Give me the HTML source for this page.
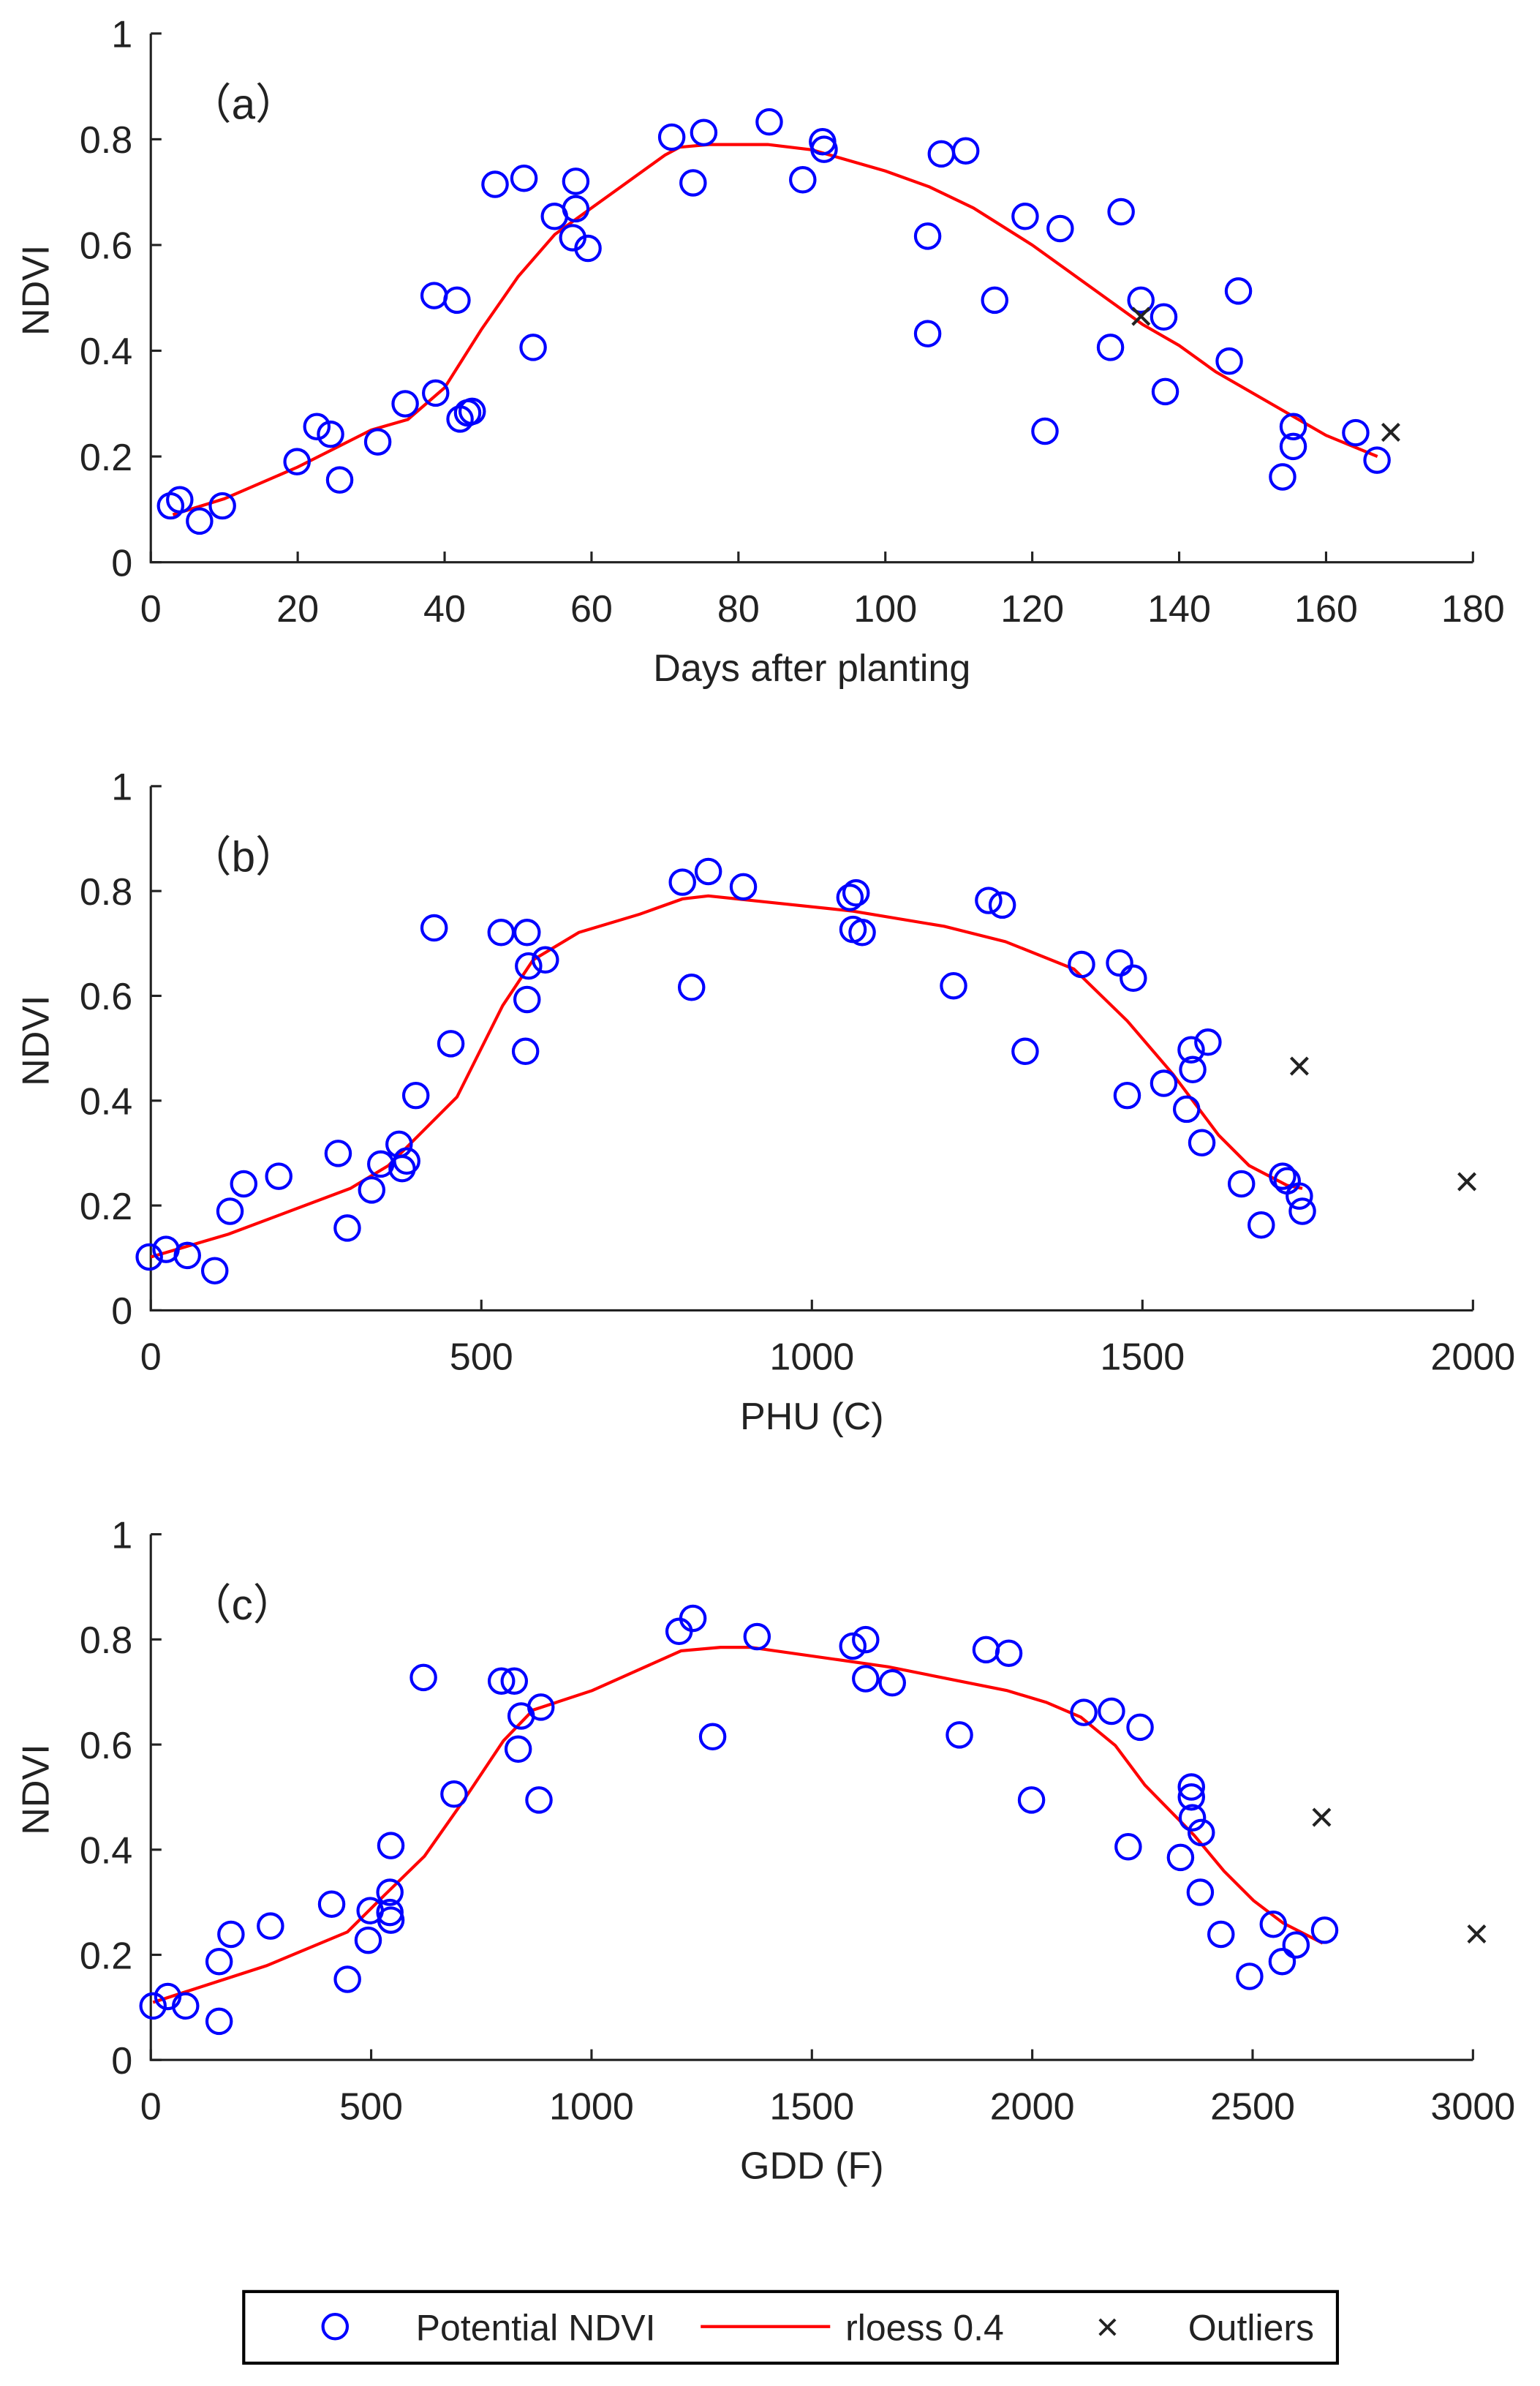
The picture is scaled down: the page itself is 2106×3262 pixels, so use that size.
<!DOCTYPE html>
<html><head><meta charset="utf-8"><style>
html,body{margin:0;padding:0;background:#fff;}
svg{display:block;}
text{font-family:"Liberation Sans","Noto Sans CJK SC",sans-serif;fill:#222;}
</style></head><body>
<svg id="s" width="2106" height="3262" viewBox="0 0 1011 1566" preserveAspectRatio="none" xmlns="http://www.w3.org/2000/svg">
<rect width="1011" height="1566" fill="#fff"/>
<g id="g"></g>
<rect x="160" y="1504" width="718" height="47" fill="none" stroke="#000" stroke-width="2"/>
<circle cx="220" cy="1527" r="8" fill="none" stroke="#00f" stroke-width="2"/>
<text x="273" y="1536" font-size="24">Potential NDVI</text>
<line x1="460" y1="1527" x2="545" y2="1527" stroke="#f00" stroke-width="2"/>
<text x="555" y="1536" font-size="24">rloess 0.4</text>
<text x="727" y="1536" font-size="26" text-anchor="middle">×</text>
<text x="780" y="1536" font-size="24">Outliers</text>
</svg>
<script>
var NS="http://www.w3.org/2000/svg",G=document.getElementById("g");
function el(t,a,txt){var e=document.createElementNS(NS,t);for(var k in a)e.setAttribute(k,a[k]);if(txt!=null)e.textContent=txt;G.appendChild(e);return e;}
function panel(top,bot,xmax,xstep,tag,xl,pts,outs,loess){
 var L=99,R=967;
 el("path",{d:"M"+L+" "+top+"V"+bot+"H"+R,fill:"none",stroke:"#222","stroke-width":1.5});
 for(var i=0;i<=5;i++){var v=i*0.2,y=bot-(bot-top)*v;
  el("line",{x1:L,y1:y,x2:L+7,y2:y,stroke:"#222","stroke-width":1.5});
  el("text",{x:87,y:y+9,"font-size":25,"text-anchor":"end"},i==0?"0":i==5?"1":v.toFixed(1));}
 for(var xv=0;xv<=xmax;xv+=xstep){var x=L+(R-L)*xv/xmax;
  el("line",{x1:x,y1:bot,x2:x,y2:bot-7,stroke:"#222","stroke-width":1.5});
  el("text",{x:x,y:bot+39,"font-size":25,"text-anchor":"middle"},String(xv));}
 el("text",{x:533,y:bot+78,"font-size":25,"text-anchor":"middle"},xl);
 var cy=(top+bot)/2-5;
 el("text",{x:32,y:cy,"font-size":25,"text-anchor":"middle",transform:"rotate(-90 32 "+cy+")"},"NDVI");
 el("text",{x:124,y:top+56,"font-size":28},"（"+tag+"）");
 el("polyline",{points:loess.map(function(p){return p.join(",")}).join(" "),fill:"none",stroke:"#f00","stroke-width":2});
 pts.forEach(function(p){el("circle",{cx:p[0],cy:p[1],r:8,fill:"none",stroke:"#00f","stroke-width":2});});
 outs.forEach(function(p){el("text",{x:p[0],y:p[1]+8,"font-size":28,"text-anchor":"middle"},"×");});
}
var la=[[3,0.09],[10,0.12],[20,0.18],[30,0.25],[35,0.27],[40,0.33],[45,0.44],[50,0.54],[55,0.62],[60,0.67],[65,0.72],[70,0.77],[72,0.785],[76,0.79],[84,0.79],[90,0.78],[100,0.74],[106,0.71],[112,0.67],[120,0.60],[125,0.55],[132,0.48],[135,0.45],[140,0.41],[145,0.36],[150,0.32],[160,0.24],[167,0.2]].map(function(p){return [99+p[0]*4.822,369-p[1]*347];});
panel(22,369,180,20,"a","Days after planting",
[[112,332],[118,328],[131,342],[146,332],[195,303],[208,280],[217,285],[223,315],[248,290],[266,265],[285,194],[286,258],[300,197],[302,275],[307,271],[310,270],[325,121],[344,117],[350,228],[364,142],[376,156],[378,119],[378,137],[386,163],[441,90],[455,120],[462,87],[505,80],[527,118],[540,93],[541,98],[609,155],[609,219],[618,101],[634,99],[653,197],[673,142],[686,283],[696,150],[729,228],[736,139],[749,197],[764,208],[765,257],[807,237],[813,191],[842,313],[849,280],[849,293],[890,284],[904,302]],
[[749,209],[913,285]],la);
panel(516,860,2000,500,"b","PHU (C)",
[[98,825],[109,820],[123,824],[141,834],[151,795],[160,777],[183,772],[222,757],[228,806],[244,781],[250,764],[262,751],[264,767],[267,762],[273,719],[285,609],[296,685],[329,612],[345,690],[346,656],[346,612],[347,634],[358,630],[448,579],[454,648],[465,572],[488,582],[558,589],[562,586],[560,610],[566,612],[626,647],[649,591],[658,594],[673,690],[710,633],[735,632],[740,719],[744,642],[764,711],[779,728],[782,689],[783,702],[789,750],[793,684],[815,777],[828,804],[842,772],[845,775],[853,785],[855,795]],
[[853,701],[963,777]],
[[99,825],[150,810],[230,780],[255,765],[280,740],[300,720],[330,660],[350,630],[380,612],[420,600],[448,590],[465,588],[560,598],[620,608],[660,618],[705,636],[740,670],[770,705],[800,745],[820,765],[845,778],[855,780]]);
function cz(p){return [p[0]*0.648,p[1]*0.3884+960];}
panel(1007,1352,3000,500,"c","GDD (F)",
[[155,918],[170,902],[188,918],[222,944],[222,843],[234,797],[274,783],[336,746],[352,873],[373,807],[375,757],[395,726],[395,760],[396,773],[396,647],[429,363],[460,560],[508,369],[521,369],[528,428],[525,484],[546,570],[548,413],[688,285],[702,263],[722,463],[767,294],[864,310],[877,299],[877,365],[904,372],[972,460],[999,316],[1022,322],[1045,570],[1098,422],[1126,420],[1143,649],[1155,447],[1196,667],[1207,548],[1207,565],[1208,600],[1217,625],[1216,726],[1237,797],[1266,868],[1290,780],[1299,843],[1313,815],[1342,790]].map(cz),
[[1339,603],[1496,800]].map(cz),
[[155,912],[270,850],[352,793],[390,730],[430,665],[470,570],[510,470],[540,418],[600,385],[690,318],[730,312],[760,312],[900,345],[1020,385],[1060,405],[1095,430],[1130,478],[1160,545],[1210,630],[1240,690],[1270,740],[1300,778],[1340,812]].map(cz));
</script>
</body></html>
